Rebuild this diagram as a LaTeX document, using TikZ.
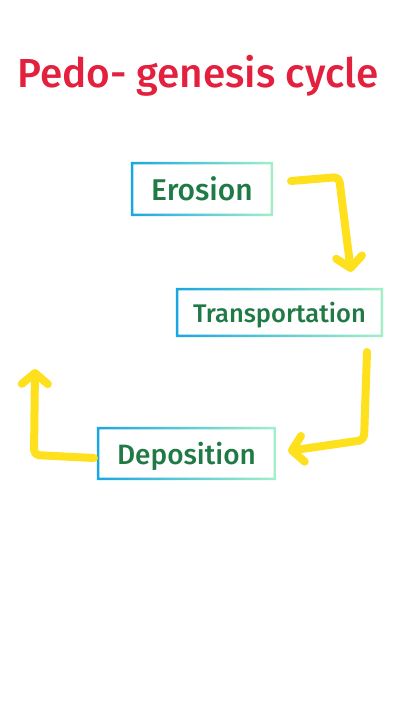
\documentclass[tikz,border=0pt]{standalone}
\usepackage{fontspec}
\IfFontExistsTF{Fira Sans Medium}{\setmainfont{Fira Sans Medium}}{\setmainfont{Fira Sans}}
\usetikzlibrary{arrows.meta}
\definecolor{titlered}{HTML}{E3203D}
\definecolor{leafgreen}{HTML}{1F7A45}
\definecolor{boxblue}{HTML}{1AA6E0}
\definecolor{boxmint}{HTML}{A2F0C8}
\definecolor{penyellow}{HTML}{FFE01C}
\begin{document}
\begin{tikzpicture}[x=1pt, y=-1pt,
  stage/.style={inner sep=0pt, text depth=0pt, text=leafgreen},
  pen/.style={draw=penyellow, line width=8pt, line cap=round, line join=round, rounded corners=5pt,
    -{Straight Barb[length=11pt, width=26pt, round]}}]
  \fill[white] (0,0) rectangle (405,720);
  \useasboundingbox (0,0) rectangle (405,720);
  \node[text=titlered, font=\fontsize{40.5}{44}\selectfont] (title) at (198,76) {Pedo- genesis cycle};
%
  \node[stage, minimum width=142pt, minimum height=54pt, font=\fontsize{30}{33}\selectfont] (ero) at (202,189) {Erosion};
  \node[stage, minimum width=207pt, minimum height=49pt, font=\fontsize{25.5}{29}\selectfont] (tra) at (279.5,312.5) {Transportation};
  \node[stage, minimum width=179pt, minimum height=53pt, font=\fontsize{28}{31}\selectfont] (dep) at (186.5,453.5) {Deposition};
  \foreach \n in {ero,tra,dep}
    \shade[left color=boxblue, right color=boxmint, even odd rule]
      (\n.south west) rectangle (\n.north east)
      ([shift={(2.6pt,2.6pt)}]\n.south west) rectangle ([shift={(-2.6pt,-2.6pt)}]\n.north east);
%
  \coordinate (e1) at (291,181);
  \coordinate (t1) at (351,272);
  \coordinate (t2) at (367,352);
  \coordinate (d1) at (288,451);
  \coordinate (d2) at (94,458);
  \coordinate (r1) at (35,369);
  \draw[pen] (e1) -- (339,177) -- (345,225) -- (t1);
  \draw[pen] (t2) -- (364,440) -- (d1);
  \draw[pen] (d2) -- (34,455) -- (r1);
\end{tikzpicture}
\end{document}
